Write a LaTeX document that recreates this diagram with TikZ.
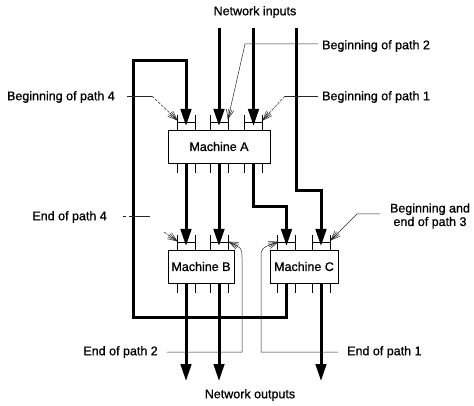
\documentclass[tikz,border=0pt]{standalone}
\usepackage{fontspec}
\setmainfont[FakeBold=0.9]{Liberation Sans}
\usetikzlibrary{arrows.meta,calc}
\newcommand\fanarrow[2]{%
  \foreach \a in {-22,-11,0,11,22} \draw[hair] (#1) -- ($(#1)!10pt!\a:(#2)$);}
\newcommand\topport[3]{% x, box top, name
  \coordinate (#3l) at (#1-9,#2-15);
  \draw[tick] (#1-9,#2-15) -- (#1-9,#2) (#1+9,#2-15) -- (#1+9,#2)
    (#1-9,#2-8) -- (#1+9,#2-8);}
\newcommand\botport[2]{% x, box bottom
  \draw[tick] (#1-9,#2) -- (#1-9,#2+10) (#1+9,#2) -- (#1+9,#2+10);}
\begin{document}
\begin{tikzpicture}[x=1pt,y=-1pt,
  font=\fontsize{12.5}{13.5}\selectfont,
  thickline/.style={line width=3pt},
  thickarrow/.style={line width=3pt,-{Triangle[length=17pt,width=10.5pt]}},
  hair/.style={line width=0.5pt,black!85},
  dhair/.style={hair,dash pattern=on 3pt off 1.2pt},
  box/.style={draw,line width=0.7pt,minimum height=33pt,inner sep=0pt},
  tick/.style={line width=0.7pt},
  lbl/.style={inner sep=0pt}]
\useasboundingbox (0,0) rectangle (474,406);

% machines
\node[box,minimum width=102pt] (A) at (219,146.5) {Machine A};
\node[box,minimum width=66pt] (B) at (201,266.5) {Machine B};
\node[box,minimum width=68pt] (C) at (304,266.5) {Machine C};

% ports
\topport{186}{130}{pa1}\topport{219}{130}{pa2}\topport{253.5}{130}{pa3}
\botport{186}{163}\botport{219}{163}\botport{253.5}{163}
\topport{186}{250}{pb1}\topport{219}{250}{pb2}
\botport{186}{283}\botport{219}{283}
\topport{286.5}{250}{pc1}\topport{321}{250}{pc2}
\botport{286.5}{283}\botport{321}{283}

% coordinates
\coordinate (in2) at (219,28);
\coordinate (in3) at (253.5,28);
\coordinate (in4) at (296,28);
\coordinate (a1i) at (186,126);
\coordinate (a2i) at (219,126);
\coordinate (a3i) at (253.5,126);
\coordinate (a1o) at (186,163);
\coordinate (a2o) at (219,163);
\coordinate (a3o) at (253.5,163);
\coordinate (b1i) at (186,246);
\coordinate (b2i) at (219,246);
\coordinate (c1i) at (286.5,246);
\coordinate (c2i) at (321,246);
\coordinate (b1o) at (186,283);
\coordinate (b2o) at (219,283);
\coordinate (c1o) at (286.5,283);
\coordinate (c2o) at (321,283);
\coordinate (out1) at (186,381);
\coordinate (out2) at (219,381);
\coordinate (out3) at (321,381);

% thick connections
\draw[thickarrow] (in2) -- (a2i);
\draw[thickarrow] (in3) -- (a3i);
\draw[thickarrow] (in4) -- (296,191) -| (c2i);
\draw[thickarrow] (c1o) -- (286.5,317) -- (133,317) -- (133,61) -| (a1i);
\draw[thickarrow] (a1o) -- (b1i);
\draw[thickarrow] (a2o) -- (b2i);
\draw[thickarrow] (a3o) -- (253.5,207) -| (c1i);
\draw[thickarrow] (b1o) -- (out1);
\draw[thickarrow] (b2o) -- (out2);
\draw[thickarrow] (c2o) -- (out3);

% labels
\node[lbl] (tin) at (255,12) {Network inputs};
\node[lbl] (tout) at (250,395) {Network outputs};
\node[lbl,anchor=west] (lp2) at (322,46) {Beginning of path 2};
\node[lbl,anchor=west] (lp1) at (322,97) {Beginning of path 1};
\node[lbl,anchor=east] (lp4) at (115,97) {Beginning of path 4};
\node[lbl,anchor=east] (le4) at (107,217) {End of path 4};
\node[lbl,align=center] (lp3) at (430,216) {Beginning and\\end of path 3};
\node[lbl,anchor=east] (le2) at (158,352) {End of path 2};
\node[lbl,anchor=west] (le1) at (347,352) {End of path 1};

% leaders
\coordinate (p2tip) at (228,119);
\draw[hair] (318,44) -- (245,44) -- (p2tip);
\fanarrow{p2tip}{245,44}
\coordinate (p1tip) at (263,120);
\draw[hair] (318,96) -- (285,96);
\draw[dhair] (285,96) -- (p1tip);
\fanarrow{p1tip}{285,96}
\coordinate (p4tip) at (177,120);
\draw[hair] (127,96) -- (152,96);
\draw[dhair] (152,96) -- (p4tip);
\fanarrow{p4tip}{152,96}
\draw[hair] (123,216) -- (126,216) (129,216) -- (150,216);
\coordinate (p3tip) at (331,240);
\draw[hair] (380,214) -- (357,214) -- (p3tip);
\fanarrow{p3tip}{357,214}
\coordinate (e2tip) at (229,242);
\draw[hair] (167,352) -- (242,352) -- (242,258) .. controls (242,248) .. (e2tip);
\fanarrow{e2tip}{240,247}
\coordinate (e1tip) at (278,242);
\draw[hair] (338,352) -- (261,352) -- (261,258) .. controls (261,248) .. (e1tip);
\fanarrow{e1tip}{263,247}
\coordinate (e4tip) at (177,241);
\draw[dhair] (164,232) -- (e4tip);
\fanarrow{e4tip}{164,232}
\end{tikzpicture}
\end{document}
